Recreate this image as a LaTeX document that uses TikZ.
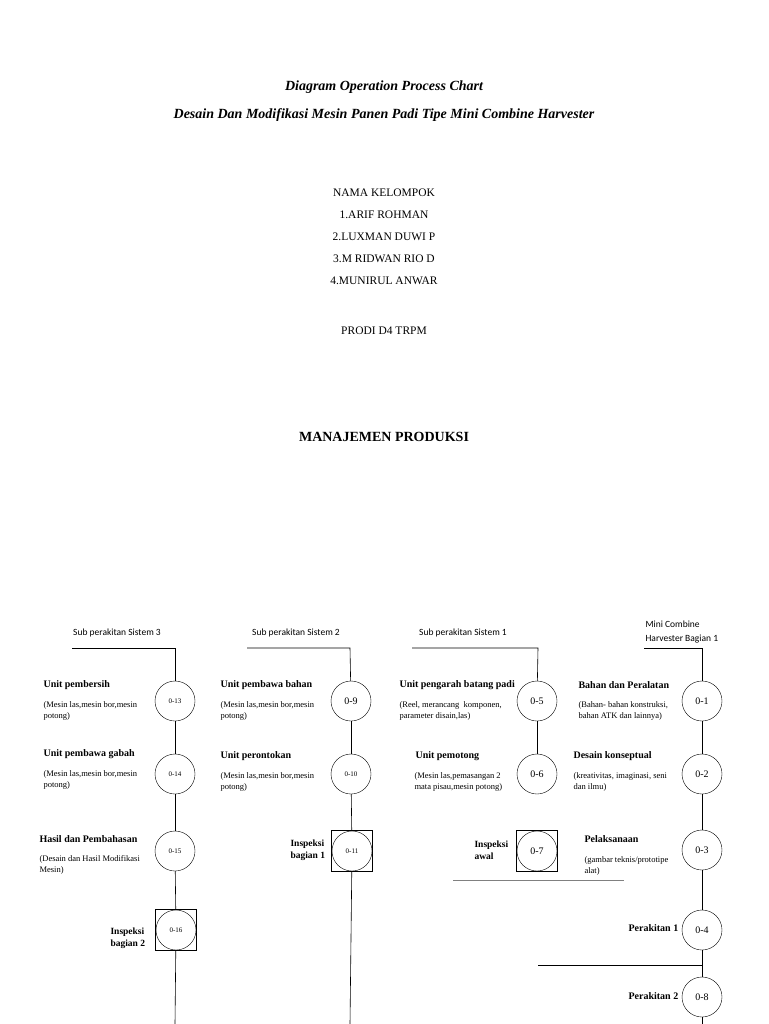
\documentclass[tikz,border=0pt]{standalone}
\usepackage{fontspec}
\setmainfont{Liberation Serif}
\newfontfamily\calib{Carlito}
\begin{document}
\begin{tikzpicture}[x=1pt,y=-1pt,
 op/.style={draw,circle,minimum size=40pt,inner sep=0pt,font=\fontsize{10}{10}\selectfont},
 ops/.style={draw,circle,minimum size=40pt,inner sep=0pt,font=\fontsize{7}{7}\selectfont},
 insp/.style={draw,minimum size=41pt,inner sep=0pt},
 ttl/.style={font=\fontsize{10}{11}\selectfont\bfseries,anchor=west},
 sub/.style={font=\fontsize{8.5}{11}\selectfont,anchor=north west,align=left},
 hdr/.style={font=\calib\fontsize{9.5}{14}\selectfont,align=left},
 ln/.style={line width=0.6pt},
 txt/.style={font=\fontsize{11.5}{12}\selectfont}]
\useasboundingbox (0,0) rectangle (768,1024);
\node[font=\fontsize{14}{14}\selectfont\bfseries\itshape] (t1) at (384,87) {Diagram Operation Process Chart};
\node[font=\fontsize{14}{14}\selectfont\bfseries\itshape] (t2) at (384,115) {Desain Dan Modifikasi Mesin Panen Padi Tipe Mini Combine Harvester};
\node[txt] (n0) at (384,193) {NAMA KELOMPOK};
\node[txt] (n1) at (384,215) {1.ARIF ROHMAN};
\node[txt] (n2) at (384,237) {2.LUXMAN DUWI P};
\node[txt] (n3) at (384,259) {3.M RIDWAN RIO D};
\node[txt] (n4) at (384,281) {4.MUNIRUL ANWAR};
\node[txt] (n5) at (384,331) {PRODI D4 TRPM};
\node[font=\fontsize{14}{14}\selectfont\bfseries] (mp) at (384,437) {MANAJEMEN PRODUKSI};
% headers
\node[hdr] at (117,633) {Sub perakitan Sistem 3};
\node[hdr] at (296,633) {Sub perakitan Sistem 2};
\node[hdr] at (463,633) {Sub perakitan Sistem 1};
\node[hdr,anchor=west] at (642,632) {Mini Combine\\Harvester Bagian 1};
\coordinate (s3a) at (72,648); \coordinate (s3b) at (175,648); \coordinate (s3e) at (175,1024);
\coordinate (s2a) at (247,648); \coordinate (s2b) at (350,648); \coordinate (s2e) at (350,1024);
\coordinate (s1a) at (412,648); \coordinate (s1b) at (538,648);
\coordinate (m0a) at (644,648); \coordinate (m0b) at (702,648); \coordinate (me) at (702,1024);
\coordinate (ha) at (453,880); \coordinate (hb) at (624,880);
\coordinate (ja) at (538,965); \coordinate (jb) at (702,965);
% column 3
\node[ops] (o13) at (175,701) {0-13};
\node[ops] (o14) at (175,774) {0-14};
\node[ops] (o15) at (175,851) {0-15};
\node[insp] (b16) at (176,930) {}; \node[ops] (o16) at (176,930) {0-16};
% column 2
\node[op] (o9) at (351,701) {0-9};
\node[ops] (o10) at (351,774) {0-10};
\node[insp] (b11) at (352,851) {}; \node[ops] (o11) at (352,851) {0-11};
% column 1
\node[op] (o5) at (537,701) {0-5};
\node[op] (o6) at (537,774) {0-6};
\node[insp] (b7) at (537,851) {}; \node[op] (o7) at (537,851) {0-7};
% main
\node[op] (o1) at (702,701) {0-1};
\node[op] (o2) at (702,774) {0-2};
\node[op] (o3) at (702,850) {0-3};
\node[op] (o4) at (702,930) {0-4};
\node[op] (o8) at (702,997) {0-8};
% lines
\draw[ln] (s3a) -- (s3b) -- (o13); \draw[ln] (o13)--(o14); \draw[ln] (o14)--(o15); \draw[ln] (o15)--(b16); \draw[ln] (b16)--(s3e);
\draw[ln] (s2a) -- (s2b) -- (o9); \draw[ln] (o9)--(o10); \draw[ln] (o10)--(b11); \draw[ln] (b11)--(s2e);
\draw[ln] (s1a) -- (s1b) -- (o5); \draw[ln] (o5)--(o6);
\draw[ln,gray] (ha)--(hb);
\draw[ln] (m0a) -- (m0b) -- (o1); \draw[ln] (o1)--(o2); \draw[ln] (o2)--(o3); \draw[ln] (o3)--(o4); \draw[ln] (o4)--(o8); \draw[ln] (o8)--(me);
\draw[ln] (ja)--(jb);
% labels col3
\node[ttl] (l13) at (40,685) {Unit pembersih};
\node[sub] (d13) at (40,698) {(Mesin las,mesin bor,mesin\\potong)};
\node[ttl] (l14) at (40,754) {Unit pembawa gabah};
\node[sub] (d14) at (40,767) {(Mesin las,mesin bor,mesin\\potong)};
\node[ttl] (l15) at (36,839) {Hasil dan Pembahasan};
\node[sub] (d15) at (36,852) {(Desain dan Hasil Modifikasi\\Mesin)};
\node[ttl,align=left,font=\fontsize{9.5}{12}\selectfont\bfseries] (l16) at (107,938) {Inspeksi\\bagian 2};
% col2
\node[ttl] (l9) at (217,685) {Unit pembawa bahan};
\node[sub] (d9) at (217,698) {(Mesin las,mesin bor,mesin\\potong)};
\node[ttl] (l10) at (217,756) {Unit perontokan};
\node[sub] (d10) at (217,769) {(Mesin las,mesin bor,mesin\\potong)};
\node[ttl,align=left,font=\fontsize{9.5}{12}\selectfont\bfseries] (l11) at (287,850) {Inspeksi\\bagian 1};
% col1
\node[ttl] (l5) at (396,685) {Unit pengarah batang padi};
\node[sub] (d5) at (396,698) {(Reel, merancang\ \ komponen,\\parameter disain,las)};
\node[ttl] (l6) at (412,756) {Unit pemotong};
\node[sub] (d6) at (411,769) {(Mesin las,pemasangan 2\\mata pisau,mesin potong)};
\node[ttl,align=left,font=\fontsize{9.5}{12}\selectfont\bfseries] (l7) at (471,850) {Inspeksi\\awal};
% main
\node[ttl] (l1) at (575,685) {Bahan dan Peralatan};
\node[sub] (d1) at (575,698) {(Bahan- bahan konstruksi,\\bahan ATK dan lainnya)};
\node[ttl] (l2) at (570,756) {Desain konseptual};
\node[sub] (d2) at (570,769) {(kreativitas, imaginasi, seni\\dan ilmu)};
\node[ttl] (l3) at (581,839) {Pelaksanaan};
\node[sub] (d3) at (581,853) {(gambar teknis/prototipe\\alat)};
\node[ttl] (l4) at (625,928) {Perakitan 1};
\node[ttl] (l8) at (625,996) {Perakitan 2};
\end{tikzpicture}
\end{document}
